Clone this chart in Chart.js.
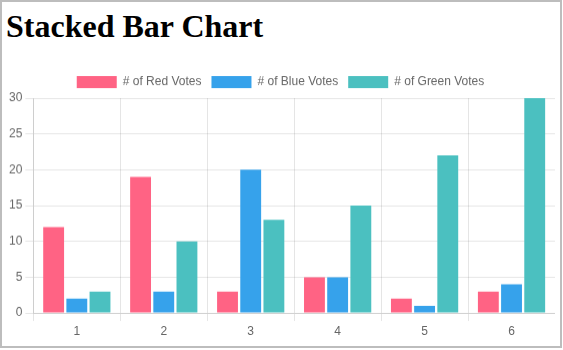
<!DOCTYPE html>
<html>
<head>
<meta charset="utf-8">
<title>Stacked Bar Chart</title>
<script src="https://cdn.jsdelivr.net/npm/chart.js"></script>
<style>
    body {
        margin: 8px 8px 8px 6px;
        background: #fff;
    }
    h1 {
        font-family: "Liberation Serif", "Times New Roman", serif;
        font-size: 32px;
        font-weight: bold;
        margin: 0 0 21px 0;
    }
    .frame {
        position: fixed;
        left: 0;
        top: 0;
        width: 562px;
        height: 348px;
        box-sizing: border-box;
        border: 2px solid #bdbdbd;
        pointer-events: none;
    }
    .chart-box {
        width: 549px;
    }
</style>
</head>
<body>
<div class="frame"></div>
<h1>Stacked Bar Chart</h1>
<div class="chart-box">
    <canvas id="votesChart"></canvas>
</div>
<script>
// chart data
const labels = ['1', '2', '3', '4', '5', '6'];
const redVotes = [12, 19, 3, 5, 2, 3];
const blueVotes = [2, 3, 20, 5, 1, 4];
const greenVotes = [3, 10, 13, 15, 22, 30];

document.addEventListener('DOMContentLoaded', function () {
    Chart.defaults.font.family = "'Helvetica Neue', Helvetica, Arial, 'Liberation Sans', sans-serif";
    Chart.defaults.color = '#666';

    var ctx = document.getElementById('votesChart').getContext('2d');
    var votesChart = new Chart(ctx, {
        type: 'bar',
        data: {
            labels: labels,
            datasets: [{
                label: '# of Red Votes',
                data: redVotes,
                backgroundColor: '#ff6384'
            }, {
                label: '# of Blue Votes',
                data: blueVotes,
                backgroundColor: '#36a2eb'
            }, {
                label: '# of Green Votes',
                data: greenVotes,
                backgroundColor: '#4bc0c0'
            }]
        },
        options: {
            responsive: true,
            maintainAspectRatio: true,
            animation: false,
            scales: {
                y: {
                    beginAtZero: true,
                    max: 30,
                    ticks: { stepSize: 5 }
                }
            },
            plugins: {
                legend: {
                    position: 'top'
                },
                tooltip: {
                    enabled: true
                }
            }
        }
    });
});
</script>
</body>
</html>
